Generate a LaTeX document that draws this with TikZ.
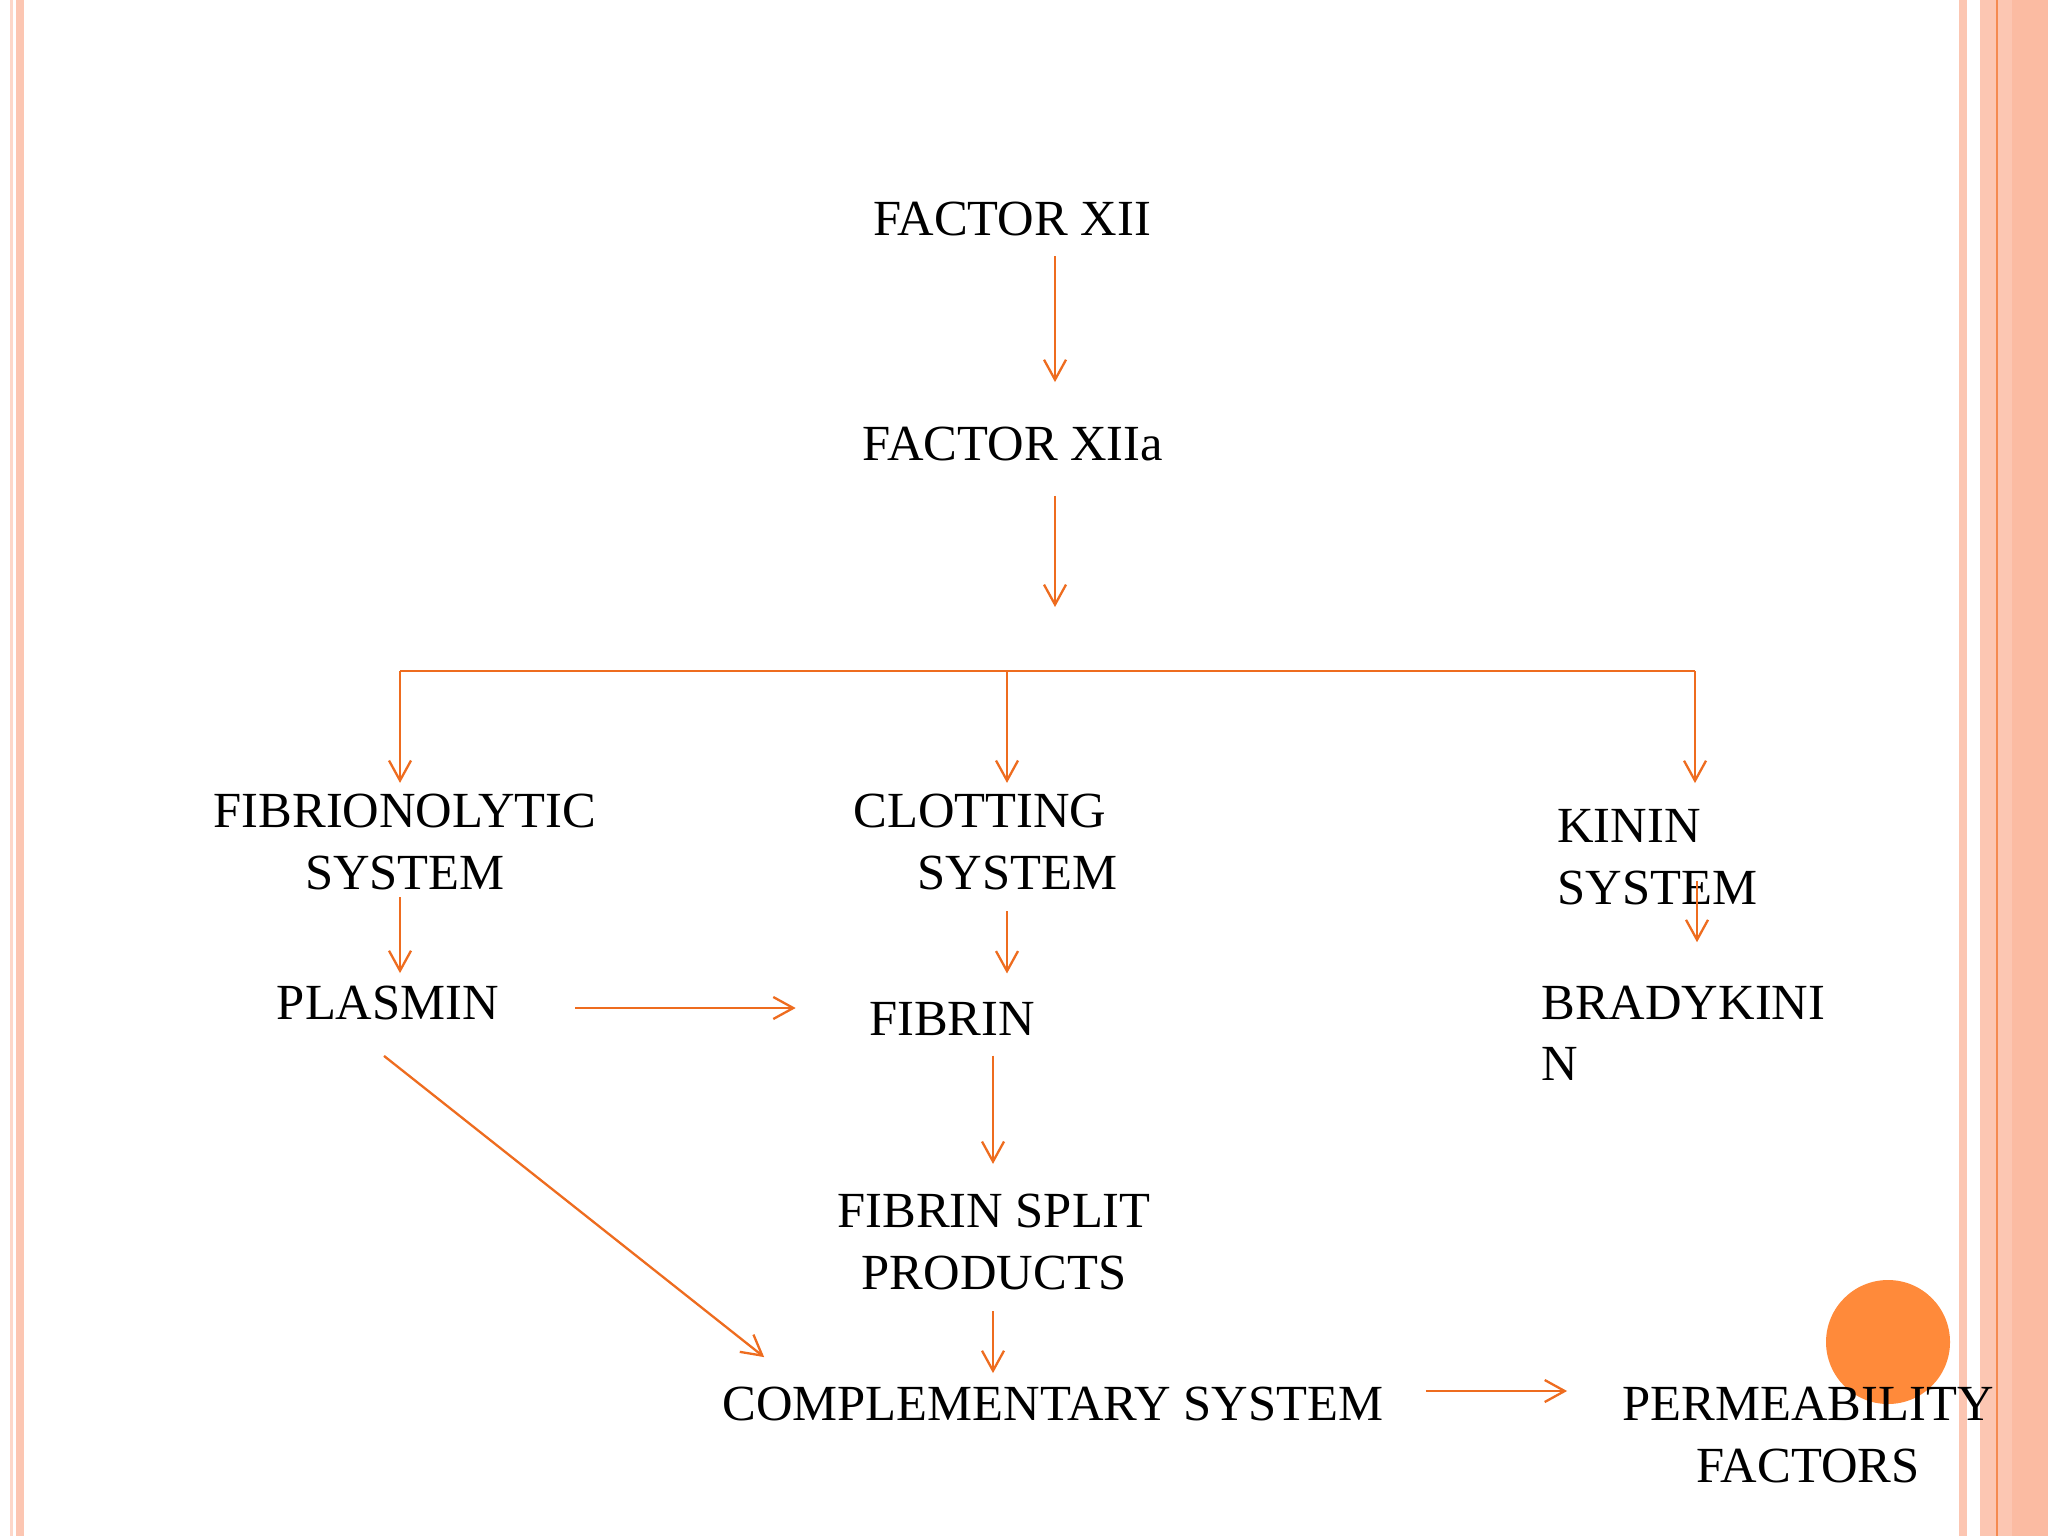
\documentclass[tikz,border=0pt]{standalone}
\usepackage{fontspec}
\setmainfont{Liberation Serif}
\usetikzlibrary{arrows.meta,positioning,calc}

\definecolor{flowline}{HTML}{EE6C1F}
\definecolor{stripe}{HTML}{FCC6B2}
\definecolor{stripedark}{HTML}{FBBBA2}
\definecolor{stripeline}{HTML}{F58A50}
\definecolor{dotfill}{HTML}{FF8A3A}

\tikzset{
  term/.style={font=\fontsize{25.3}{30.7}\selectfont, inner sep=0pt, text=black},
  flow/.style={draw=flowline, line width=1.15pt,
    -{Straight Barb[length=10pt,width=11pt,line width=1.15pt]}},
  bus/.style={draw=flowline, line width=1.15pt}
}

\begin{document}
\begin{tikzpicture}[x=0.5pt,y=-0.5pt]

  % Rahmen
  \useasboundingbox (0,0) rectangle (2048,1536);
  \fill[white] (0,0) rectangle (2048,1536);
  \fill[stripe!70] (10,0) rectangle (13,1536);
  \fill[stripe] (16,0) rectangle (24,1536);
  \fill[stripe] (1959,0) rectangle (1967,1536);
  \fill[stripe] (1980,0) rectangle (2048,1536);
  \fill[stripedark] (2012,0) rectangle (2048,1536);
  \fill[stripeline] (1995.5,0) rectangle (1998,1536);
  \fill[dotfill] (1888,1342) circle (62);

  % Knoten
  \node[term] (f12) at (1012,219) {FACTOR XII};
  \node[term] (f12a) at (1013,444) {FACTOR XIIa};
  \node[term, align=center] (fibsys) at (405,842) {FIBRIONOLYTIC\\SYSTEM};
  \node[term, align=left, anchor=west] (clotsys) at (853,842) {CLOTTING\\\hspace*{32pt}SYSTEM};
  \node[term, align=left, anchor=west] (kininsys) at (1557,857) {KININ\\SYSTEM};
  \node[term] (plasmin) at (388,1003) {PLASMIN};
  \node[term] (fibrin) at (952,1019) {FIBRIN};
  \node[term, align=left, anchor=west] (bradykinin) at (1541,1033) {BRADYKINI\\N};
  \node[term, align=center] (fsp) at (994,1242) {FIBRIN SPLIT\\PRODUCTS};
  \node[term] (compsys) at (1053,1404) {COMPLEMENTARY SYSTEM};
  \node[term, align=center] (permfac) at (1808,1435) {PERMEABILITY\\FACTORS};

  % Verzweigung
  \coordinate (busin) at (1055,607);
  \coordinate (busL) at (400,671);
  \coordinate (busM) at (1007,671);
  \coordinate (busR) at (1695,671);

  % Pfeile
  \draw[flow] ($(f12.south)+(43,20)$) -- ($(f12a.north)+(42,-44.5)$);
  \draw[flow] ($(f12a.south)+(42,34.5)$) -- (busin);
  \draw[bus] (busL) -- (busR);
  \draw[flow] (busL) -- ($(busL |- fibsys.north)+(0,-11)$);
  \draw[flow] (busM) -- ($(busM |- clotsys.north)+(0,-11)$);
  \draw[flow] (busR) -- ($(busR |- kininsys.north)+(0,-26)$);
  \draw[flow] ($(busL |- fibsys.south)+(0,7)$) -- ($(busL |- plasmin.north)+(0,-12.5)$);
  \draw[flow] ($(busM |- clotsys.south)+(0,21)$) -- ($(busM |- fibrin.north)+(0,-28.5)$);
  \draw[flow] ($(busR |- kininsys.south)+(2,-24)$) -- ($(busR |- bradykinin.north)+(2,-43)$);
  \draw[flow] ($(plasmin.east)+(76,5)$) -- ($(fibrin.west)+(-73,-11)$);
  \draw[flow] ($(fibrin.south)+(41,19.5)$) -- ($(fsp.north)+(-1,-30)$);
  \draw[flow] ($(fsp.south)+(-1,21)$) -- ($(compsys.north)+(-60,-13.5)$);
  \draw[flow] ($(plasmin.south)+(-4,35.5)$) -- ($(compsys.north west)+(42,-29.5)$);
  \draw[flow] ($(compsys.east)+(42,-13)$) -- ($(permfac.west)+(-55,-44)$);

\end{tikzpicture}
\end{document}
